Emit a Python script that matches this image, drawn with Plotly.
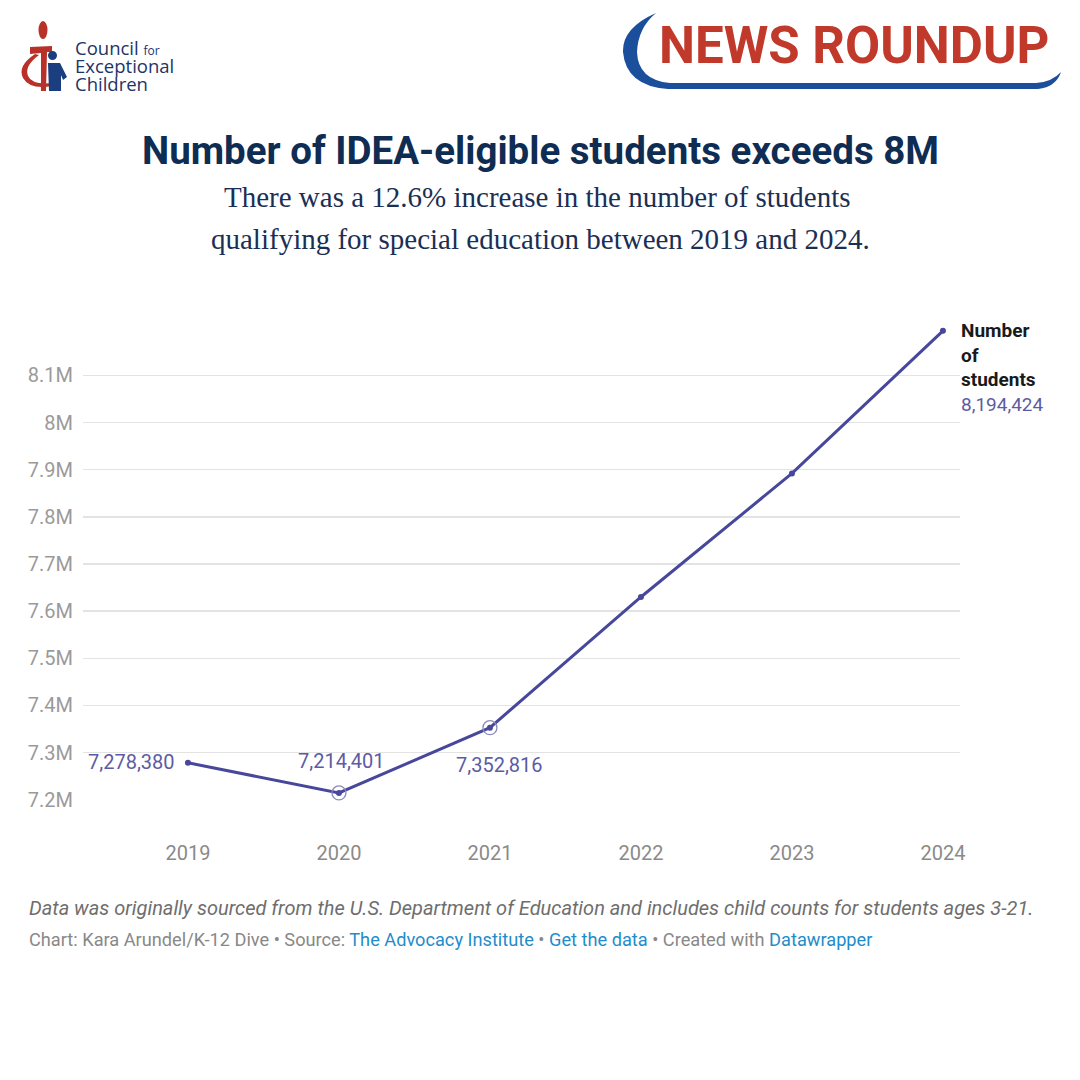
import plotly.graph_objects as go

# ---- data ----
years = [2019, 2020, 2021, 2022, 2023, 2024]
students = [7278380, 7214401, 7352816, 7630000, 7892000, 8194424]
ring_years = [2020, 2021]
ring_values = [7214401, 7352816]
y_tick_vals = [7.2e6, 7.3e6, 7.4e6, 7.5e6, 7.6e6, 7.7e6, 7.8e6, 7.9e6, 8.0e6, 8.1e6]
y_tick_text = ["7.2M", "7.3M", "7.4M", "7.5M", "7.6M", "7.7M", "7.8M", "7.9M", "8M", "8.1M"]
labelled_years = [2019, 2020, 2021]
labelled_text = ["7,278,380", "7,214,401", "7,352,816"]

REF = 1080          # design frame (reference pixels)
FIG_W, FIG_H = 1085, 1093   # rendered page size that maps onto the 1080x1080 photo

def px(x):
    return x / REF

def py(y):
    return 1 - y / REF

LINE = "#47479b"
LABEL = "#5d5ba3"

fig = go.Figure()
fig.add_trace(go.Scatter(
    x=years, y=students, mode="lines+markers",
    line=dict(color=LINE, width=3),
    marker=dict(color=LINE, size=6),
    hoverinfo="skip", cliponaxis=False, showlegend=False))
fig.add_trace(go.Scatter(
    x=ring_years, y=ring_values, mode="markers",
    marker=dict(symbol="circle-open", size=14, color="#8a89bf", line=dict(width=1.3)),
    hoverinfo="skip", cliponaxis=False, showlegend=False))

ann = []
# data labels
shifts = {2019: dict(xanchor="right", xshift=-11, yshift=1),
          2020: dict(xanchor="center", xshift=3, yshift=32),
          2021: dict(xanchor="center", xshift=10, yshift=-37)}
for yr, txt in zip(labelled_years, labelled_text):
    v = students[years.index(yr)]
    s = shifts[yr]
    ann.append(dict(x=yr, y=v, xref="x", yref="y", text=txt, showarrow=False,
                    xanchor=s["xanchor"], yanchor="middle", xshift=s["xshift"], yshift=s["yshift"],
                    font=dict(family="Roboto", size=20, color=LABEL)))
# end label
ann.append(dict(x=years[-1], y=students[-1], xref="x", yref="y",
                text="<b>Number</b><br><b>of</b><br><b>students</b><br><span style='color:%s'>%s</span>" % (LABEL, f"{students[-1]:,}"),
                showarrow=False, xanchor="left", yanchor="top", align="left", xshift=16, yshift=14,
                font=dict(family="Roboto", size=19, color="#1a1a1a")))

# title / subtitle
ann.append(dict(x=0.5, y=py(150), xref="paper", yref="paper", showarrow=False,
                text="<b>Number of IDEA-eligible students exceeds 8M</b>",
                xanchor="center", yanchor="middle",
                font=dict(family="Roboto", size=38.5, color="#0f2c52")))
ann.append(dict(x=px(537), y=py(197), xref="paper", yref="paper", showarrow=False,
                text="There was a 12.6% increase in the number of students",
                xanchor="center", yanchor="middle",
                font=dict(family="Liberation Serif", size=29, color="#1b2f55")))
ann.append(dict(x=px(540), y=py(239), xref="paper", yref="paper", showarrow=False,
                text="qualifying for special education between 2019 and 2024.",
                xanchor="center", yanchor="middle",
                font=dict(family="Liberation Serif", size=29, color="#1b2f55")))

# header: logo text
for t, yy in [("Council <span style='font-size:12px'>for</span>", 47), ("Exceptional", 65), ("Children", 83)]:
    ann.append(dict(x=px(73), y=py(yy), xref="paper", yref="paper", showarrow=False, text=t,
                    xanchor="left", yanchor="middle",
                    font=dict(family="Open Sans", size=18.5, color="#1d3466")))
# NEWS ROUNDUP
ann.append(dict(x=px(854), y=py(45), xref="paper", yref="paper", showarrow=False,
                text="<b>NEWS ROUNDUP</b>", xanchor="center", yanchor="middle",
                font=dict(family="Roboto", size=51, color="#c1392b")))

# footer
ann.append(dict(x=px(27), y=py(907), xref="paper", yref="paper", showarrow=False,
                text="<i>Data was originally sourced from the U.S. Department of Education and includes child counts for students ages 3-21.</i>",
                xanchor="left", yanchor="middle",
                font=dict(family="Roboto", size=20, color="#6e6e6e")))
blue = "#1f8ccb"
ann.append(dict(x=px(27), y=py(939), xref="paper", yref="paper", showarrow=False,
                text=("Chart: Kara Arundel/K-12 Dive • Source: <span style='color:%s'>The Advocacy Institute</span>"
                      " • <span style='color:%s'>Get the data</span> • Created with <span style='color:%s'>Datawrapper</span>") % (blue, blue, blue),
                xanchor="left", yanchor="middle",
                font=dict(family="Roboto", size=18.2, color="#888888")))

shapes = []
def P(x, y):
    return f"{px(x):.5f},{py(y):.5f}"
# blue swoosh around NEWS ROUNDUP
sw = (f"M {P(656,13)} Q {P(622,28)} {P(623,52)} Q {P(626,86)} {P(668,89)} L {P(1038,89)} "
      f"Q {P(1056,87)} {P(1061,72)} Q {P(1052,82)} {P(1036,83)} L {P(670,83)} "
      f"Q {P(638,80)} {P(637,52)} Q {P(638,28)} {P(656,13)} Z")
shapes.append(dict(type="path", path=sw, xref="paper", yref="paper",
                   fillcolor="#1b4f9c", line=dict(width=0)))
# logo shapes
red = "#b8322a"
navy = "#1b3f7e"
shapes.append(dict(type="circle", xref="paper", yref="paper",
                   x0=px(38.5), x1=px(47.5), y0=py(39), y1=py(21), fillcolor=red, line=dict(width=0)))
shapes.append(dict(type="path", xref="paper", yref="paper",
                   path=f"M {P(30,47)} L {P(52,46)} L {P(52,52)} L {P(47,52)} L {P(46,91)} L {P(41,91)} L {P(41,53)} L {P(30,54)} Z",
                   fillcolor=red, line=dict(width=0)))
shapes.append(dict(type="path", xref="paper", yref="paper",
                   path=f"M {P(35,54)} Q {P(17,66)} {P(23,78)} Q {P(30,90)} {P(52,86)} L {P(52,83)} Q {P(32,85)} {P(28,76)} Q {P(24,66)} {P(39,55)} Z",
                   fillcolor=red, line=dict(width=0)))
shapes.append(dict(type="circle", xref="paper", yref="paper",
                   x0=px(48), x1=px(57), y0=py(60), y1=py(51), fillcolor=navy, line=dict(width=0)))
shapes.append(dict(type="path", xref="paper", yref="paper",
                   path=f"M {P(48,63)} L {P(60,63)} L {P(67,77)} L {P(63,80)} L {P(61,75)} L {P(61,91)} L {P(49,91)} Z",
                   fillcolor=navy, line=dict(width=0)))

fig.update_layout(
    width=FIG_W, height=FIG_H,
    margin=dict(l=0, r=0, t=0, b=0),
    paper_bgcolor="white", plot_bgcolor="white",
    showlegend=False,
    annotations=ann, shapes=shapes,
    xaxis=dict(domain=[px(83), px(960)], range=[2018.305, 2024.113],
               tickvals=years, ticktext=[str(y) for y in years],
               showgrid=False, zeroline=False, showline=False,
               ticks="", ticklabelstandoff=39,
               tickfont=dict(family="Roboto", size=20, color="#8a8a8a")),
    yaxis=dict(domain=[py(799), py(327.9)], range=[7.2e6, 8.2e6],
               tickvals=y_tick_vals, ticktext=y_tick_text,
               showgrid=True, gridcolor="#e3e3e3", gridwidth=1.5,
               zeroline=False, showline=False, ticks="", ticklabelstandoff=9,
               tickfont=dict(family="Roboto", size=20, color="#9a9a9a")),
)

fig.write_html(
    "out.html",
    config={"displayModeBar": False, "staticPlot": True},
    post_script=("document.body.style.margin='0';document.body.style.overflow='hidden';"
                 "document.documentElement.style.overflow='hidden';"),
)
